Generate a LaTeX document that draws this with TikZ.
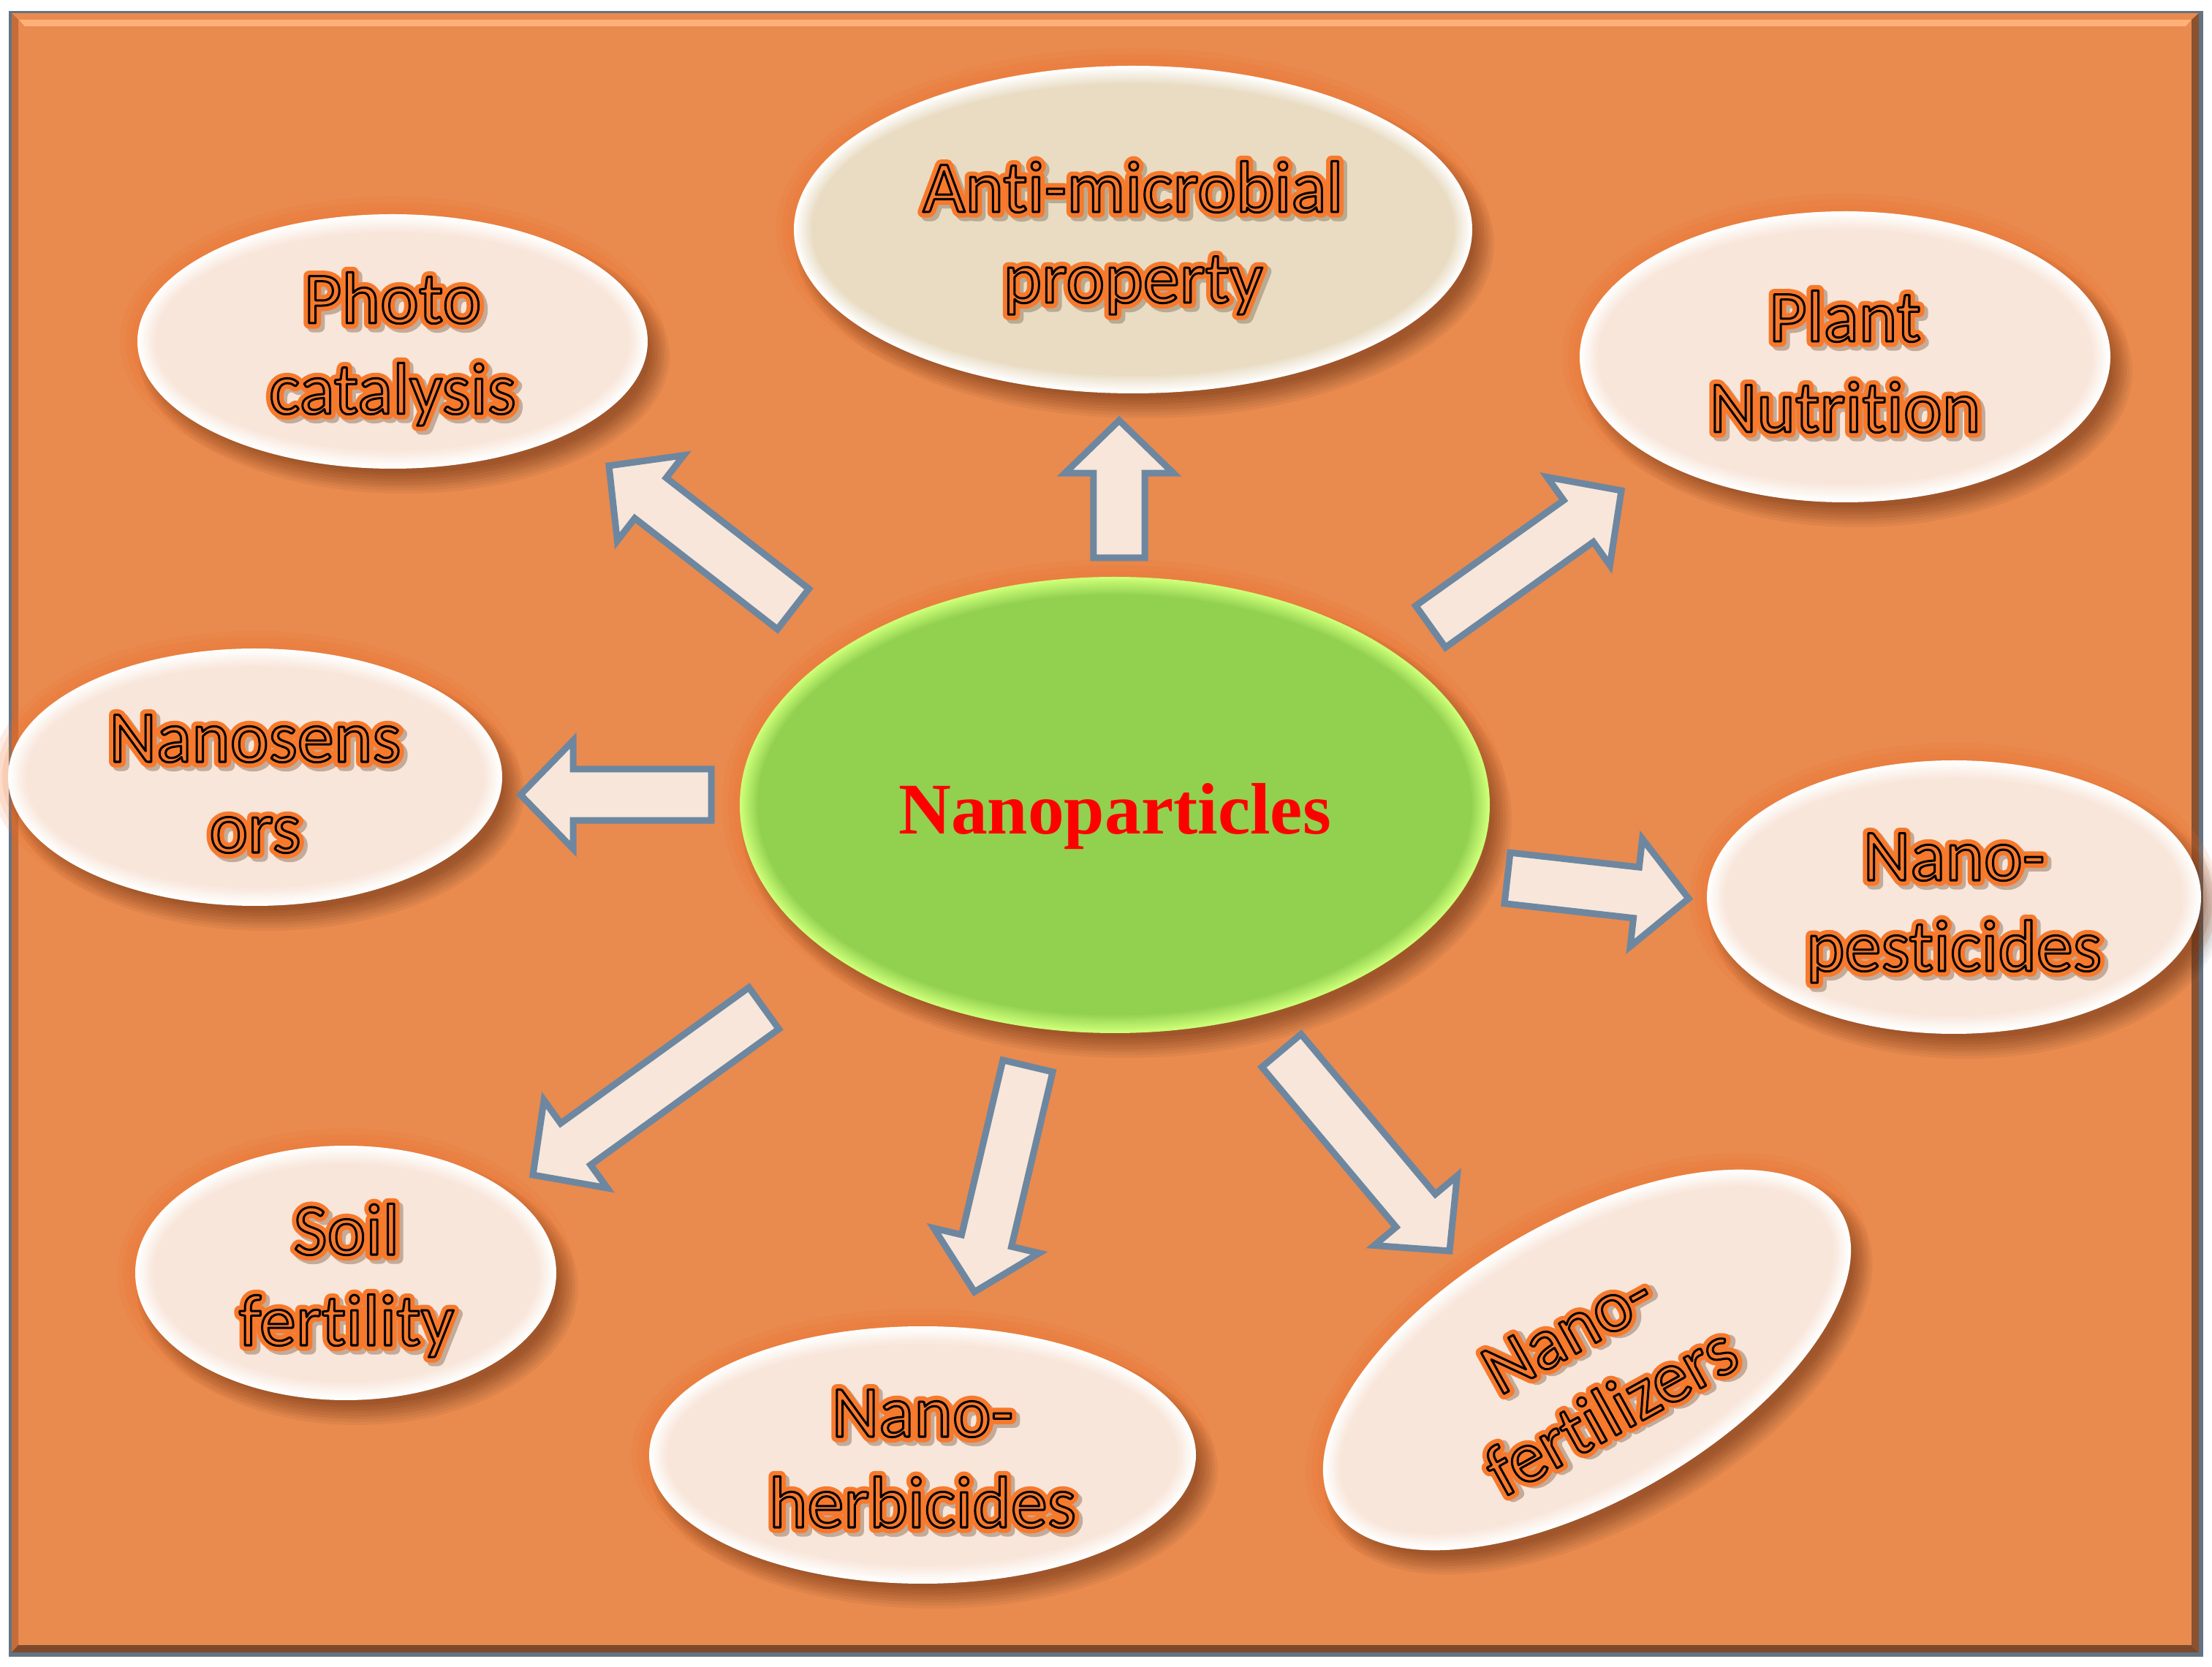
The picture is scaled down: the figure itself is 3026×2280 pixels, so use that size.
\documentclass[tikz,border=0pt]{standalone}
\usepackage{fontspec}
\setmainfont{Carlito}[Ligatures=NoCommon]
\newfontfamily\halofont{Carlito}[Ligatures=NoCommon, FakeBold=15]
\newfontfamily\edgefont{Carlito}[Ligatures=NoCommon, FakeBold=3]
\newfontfamily\timesfont{Liberation Serif}
\usetikzlibrary{calc,shapes.geometric}

\definecolor{bgc}{RGB}{233,138,79}
\definecolor{framegray}{RGB}{100,115,130}
\definecolor{bevlight}{RGB}{253,176,120}
\definecolor{bevleft}{RGB}{196,108,58}
\definecolor{bevdark}{RGB}{124,74,43}
\definecolor{bevright}{RGB}{138,82,48}
\definecolor{peach}{RGB}{248,230,218}
\definecolor{antfill}{RGB}{233,220,195}
\definecolor{npgreen}{RGB}{146,208,80}
\definecolor{rimgreen}{RGB}{205,255,120}
\definecolor{arrowline}{RGB}{109,135,160}
\definecolor{txtor}{RGB}{247,121,44}
\definecolor{shpeach}{RGB}{196,170,152}
\definecolor{shtan}{RGB}{185,170,145}
\definecolor{glowor}{RGB}{240,110,40}

\tikzset{
  lbl/.style={font={\fontsize{28.5}{34}\selectfont}, inner sep=0pt, transform shape, anchor=base, line join=round},
  arrowbox/.style={fill=peach, draw=arrowline, line width=0.09cm, line join=miter, miter limit=10},
  hub/.style={ellipse, inner sep=0pt},
}

% #1 name, #2 x, #3 y, #4 rx, #5 ry, #6 rotation, #7 fill, #8 rim colour
\newcommand\bubble[8]{%
  \begin{scope}[shift={(#2,#3)}, rotate=#6]
    \foreach \k in {1,2,3}{
      \fill[glowor, opacity=0.13] (0,0) ellipse [x radius={#4+8*\k}, y radius={#5+8*\k}];
    }
  \end{scope}
  \begin{scope}[shift={(#2+16,#3+20)}, rotate=#6]
    \foreach \k in {0,...,7}{
      \fill[black, opacity=0.045] (0,0) ellipse [x radius={#4+14-4*\k}, y radius={#5+14-4*\k}];
    }
  \end{scope}
  \begin{scope}[shift={(#2,#3)}, rotate=#6]
    \foreach \k in {0,...,8}{
      \pgfmathsetmacro\pp{\k*12.5}
      \fill[#7!\pp!#8] (0,0) ellipse [x radius={#4-3*\k}, y radius={#5-3*\k}];
    }
  \end{scope}
  \node[hub, minimum width={0.02cm*#4}, minimum height={0.02cm*#5}, rotate=#6] (#1) at (#2,#3) {};
}

% #1 id, #2 tail, #3 tip
\newcommand\blockarrow[3]{%
  \coordinate (#1hb) at ($(#3)!0.72cm!(#2)$);
  \draw[arrowbox] ($(#2)!0.35cm!90:(#3)$) -- ($(#1hb)!0.35cm!90:(#3)$) -- ($(#1hb)!0.74cm!90:(#3)$)
     -- (#3) -- ($(#1hb)!0.74cm!-90:(#3)$) -- ($(#1hb)!0.35cm!-90:(#3)$) -- ($(#2)!0.35cm!-90:(#3)$) -- cycle;
}

% #1 name, #2 x,y (baseline centre), #3 text, #4 shadow colour
\newcommand\olabel[4]{%
  \node[lbl, text=#4] (#1s) at ($(#2)+(5,5)$) {\halofont #3};
  \node[lbl, text=txtor] (#1h) at (#2) {\halofont #3};
  \node[lbl, text=txtor] (#1) at (#2) {\special{pdf:literal direct 0 0 0 RG}\edgefont #3};
}

\begin{document}
\begin{tikzpicture}[x=0.01cm,y=-0.01cm]
\useasboundingbox (0,0) rectangle (3026,2280);
\fill[white] (0,0) rectangle (3026,2280);
% frame
\fill[framegray] (12,15) rectangle (3014,2266);
\fill[bgc] (16,18) rectangle (3008,2260);
\fill[bevlight] (26,27) -- (2998,27) -- (2990,36) -- (34,36) -- cycle;
\fill[bevleft] (16,18) -- (25,27) -- (25,2251) -- (16,2260) -- cycle;
\fill[bevdark] (16,2260) -- (3008,2260) -- (2998,2250) -- (25,2250) -- cycle;
\fill[bevright] (3008,18) -- (3008,2260) -- (2998,2250) -- (2998,27) -- cycle;

% bubbles
\bubble{np}{1525}{1101}{513}{312}{0}{npgreen}{rimgreen}
\bubble{anti}{1550}{314}{464}{224}{0}{antfill}{white}
\bubble{photo}{537}{467}{349}{174}{0}{peach}{white}
\bubble{plant}{2524}{488}{363}{199}{0}{peach}{white}
\bubble{sens}{349}{1063}{338}{176}{0}{peach}{white}
\bubble{pest}{2673}{1227}{338}{187}{0}{peach}{white}
\bubble{soil}{473}{1741}{288}{174}{0}{peach}{white}
\bubble{herb}{1262}{1990}{374}{176}{0}{peach}{white}
\bubble{fert}{2171}{1860}{402}{191}{30}{peach}{white}

% arrows
\coordinate (a1t) at (1531,763);  \coordinate (a1h) at (1531,575);
\coordinate (a2t) at (1085,833);  \coordinate (a2h) at (833,637);
\coordinate (a3t) at (1957,857);  \coordinate (a3h) at (2218,671);
\coordinate (a4t) at (973,1087);  \coordinate (a4h) at (712,1087);
\coordinate (a5t) at (2062,1201); \coordinate (a5h) at (2310,1229);
\coordinate (a6t) at (1045,1379); \coordinate (a6h) at (729,1607);
\coordinate (a7t) at (1406,1458); \coordinate (a7h) at (1333,1767);
\coordinate (a8t) at (1753,1437); \coordinate (a8h) at (1983,1711);
\blockarrow{a1}{a1t}{a1h}
\blockarrow{a2}{a2t}{a2h}
\blockarrow{a3}{a3t}{a3h}
\blockarrow{a4}{a4t}{a4h}
\blockarrow{a5}{a5t}{a5h}
\blockarrow{a6}{a6t}{a6h}
\blockarrow{a7}{a7t}{a7h}
\blockarrow{a8}{a8t}{a8h}

% labels
\node[font={\timesfont\bfseries\fontsize{28.3}{34}\selectfont}, text=red, anchor=base, inner sep=0pt] (nptxt) at (1525,1141) {Nanoparticles};

\olabel{antiA}{1550,290}{Ant\kern0pt i-microbial}{shtan}
\olabel{antiB}{1550,414}{property}{shtan}
\olabel{photoA}{537,442}{Photo}{shpeach}
\olabel{photoB}{537,566}{catalysis}{shpeach}
\olabel{plantA}{2524,467}{Plant}{shpeach}
\olabel{plantB}{2524,591}{Nutrit\kern0pt ion}{shpeach}
\olabel{sensA}{349,1042}{Nanosens}{shpeach}
\olabel{sensB}{349,1166}{ors}{shpeach}
\olabel{pestA}{2673,1204}{Nano-}{shpeach}
\olabel{pestB}{2673,1328}{pesticides}{shpeach}
\olabel{soilA}{474,1716}{Soil}{shpeach}
\olabel{soilB}{474,1840}{fert\kern0pt ility}{shpeach}
\olabel{herbA}{1262,1965}{Nano-}{shpeach}
\olabel{herbB}{1262,2089}{herbicides}{shpeach}
\begin{scope}[shift={(2174,1875)}, rotate=29]
\olabel{fertA}{0,-29}{Nano-}{shpeach}
\olabel{fertB}{0,95}{fert\kern0pt ilizers}{shpeach}
\end{scope}
\end{tikzpicture}
\end{document}
